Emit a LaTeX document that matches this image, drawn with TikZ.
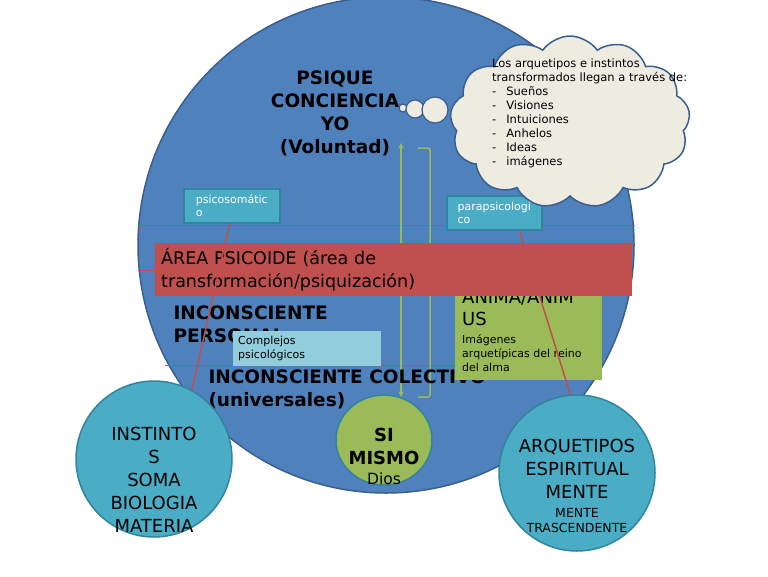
\documentclass[tikz,border=0pt]{standalone}
\usepackage{fontspec}
\setmainfont{DejaVu Sans}
\usetikzlibrary{shapes.symbols,shapes.geometric}
\definecolor{bigBlue}{HTML}{4F81BD}
\definecolor{edgeBlue}{HTML}{3A5F8F}
\definecolor{aquaFill}{HTML}{4BACC6}
\definecolor{aquaEdge}{HTML}{31859C}
\definecolor{paleAqua}{HTML}{92CDDC}
\definecolor{leafGreen}{HTML}{9BBB59}
\definecolor{bandRed}{HTML}{C0504D}
\definecolor{cloudFill}{HTML}{EEECE1}
\tikzset{
    smallBox/.style={rectangle, fill=aquaFill, draw=aquaEdge, line width=1.5pt, text=white, font=\fontsize{11}{13}\selectfont, align=left, anchor=north west, inner sep=6pt},
    bigLabel/.style={font=\fontsize{18.5}{23}\selectfont\bfseries, align=center},
    sideCircle/.style={circle, fill=aquaFill, draw=aquaEdge, line width=1.5pt, minimum size=156pt},
    circleText/.style={align=center, font=\fontsize{18}{23}\selectfont},
    redLine/.style={draw=bandRed, line width=0.8pt},
    greenLine/.style={draw=leafGreen, line width=1.5pt}
}
\begin{document}
\begin{tikzpicture}[x=1pt,y=-1pt]
    \useasboundingbox (0,0) rectangle (768,576);

    \node (psique) [circle, fill=bigBlue, draw=edgeBlue, line width=1.5pt, minimum size=496pt] at (386,245) {};
    \draw [redLine] (138,225) -- (635,225);
    \draw [redLine] (138,270) -- (160,270);
    \draw [redLine] (165,365) -- (500,365);

    % green arrow and bracket
    \coordinate (arrTop) at (401,143);
    \coordinate (arrBot) at (401,397);
    \draw [greenLine, <->, >=stealth] (arrBot) -- (arrTop);
    \draw [greenLine, rounded corners=2pt] (418,148) -- (430,148) -- (430,397) -- (418,397);

    % text layers
    \node (yo) [bigLabel] at (335,113) {PSIQUE\\CONCIENCIA\\YO\\(Voluntad)};
    \node (personal) [bigLabel, align=left, anchor=north west] at (170,302) {INCONSCIENTE\\PERSONAL};
    \node (colectivo) [bigLabel, align=left, anchor=north west] at (205,366) {INCONSCIENTE COLECTIVO\\(universales)};

    \node (somatico) [smallBox, minimum width=96pt, minimum height=34pt] at (183,188) {psicosomátic\\o};
    \node (parapsi) [smallBox, minimum width=95pt, minimum height=34pt] at (446,195) {parapsicologi\\co};

    \node (anima) [rectangle, fill=leafGreen, anchor=north west, minimum width=147pt, minimum height=90pt] at (455,290) {};
    \node [anchor=north west, align=left, font=\fontsize{18}{22}\selectfont, inner sep=0pt] at (462,290) {ANIMA/ANIM\\US};
    \node [anchor=north west, align=left, font=\fontsize{11}{14}\selectfont, inner sep=0pt] at (462,334) {Imágenes\\arquetípicas del reino\\del alma};

    \node (psicoide) [rectangle, fill=bandRed, anchor=north west, minimum width=477pt, minimum height=53pt, align=left, font=\fontsize{17.5}{23}\selectfont, text width=465pt, inner sep=4pt] at (155,243) {ÁREA PSICOIDE (área de\\transformación/psiquización)};

    \node (complejos) [rectangle, fill=paleAqua, anchor=north west, minimum width=148pt, minimum height=35pt, text width=138pt, align=left, font=\fontsize{11}{14}\selectfont, inner sep=5pt] at (233,331) {Complejos\\psicológicos};

    % connectors to side circles
    \coordinate (leftEnd) at (185,420);
    \coordinate (rightEnd) at (572,400);
    \draw [redLine, line width=1.5pt] (somatico.south) ++(-2,0) -- (leftEnd);
    \draw [redLine, line width=1.5pt] (parapsi.south) ++(25,0) -- (rightEnd);

    \node (instinto) [sideCircle] at (154,459) {};
    \node [circleText] at (154,480) {INSTINTO\\S\\SOMA\\BIOLOGIA\\MATERIA};
    \node (arquetipos) [sideCircle] at (577,473) {};
    \node [circleText] at (577,486) {ARQUETIPOS\\ESPIRITUAL\\MENTE\\[-4pt]{\fontsize{12.5}{15}\selectfont MENTE}\\[-8pt]{\fontsize{12.5}{15}\selectfont TRASCENDENTE}};
    \node (simismo) [ellipse, fill=leafGreen, draw=aquaEdge, line width=1.5pt, minimum width=96pt, minimum height=90pt] at (384,440) {};
    \node [circleText] at (384,456) {\textbf{SI}\\\textbf{MISMO}\\[-3pt]{\fontsize{15.5}{18}\selectfont Dios}};

    % thought cloud
    \node (bubA) [circle, fill=cloudFill, draw=edgeBlue, line width=1.2pt, minimum size=8pt, inner sep=0pt] at (403,108) {};
    \node (bubB) [circle, fill=cloudFill, draw=edgeBlue, line width=1.2pt, minimum size=18pt, inner sep=0pt] at (415,109) {};
    \node (bubC) [circle, fill=cloudFill, draw=edgeBlue, line width=1.2pt, minimum size=26pt, inner sep=0pt] at (435,110) {};
    \node (nube) [cloud, cloud puffs=13, cloud puff arc=110, aspect=1.4, fill=cloudFill, draw=edgeBlue, line width=1.5pt, minimum width=240pt, minimum height=172pt] at (570,122) {};
    \node (ideas) [anchor=north west, align=left, font=\fontsize{11.5}{14}\selectfont, inner sep=0pt] at (492,59) {Los arquetipos e instintos\\transformados llegan a través de:\\-\hspace{10pt}Sueños\\-\hspace{10pt}Visiones\\-\hspace{10pt}Intuiciones\\-\hspace{10pt}Anhelos\\-\hspace{10pt}Ideas\\-\hspace{10pt}imágenes};
\end{tikzpicture}
\end{document}
